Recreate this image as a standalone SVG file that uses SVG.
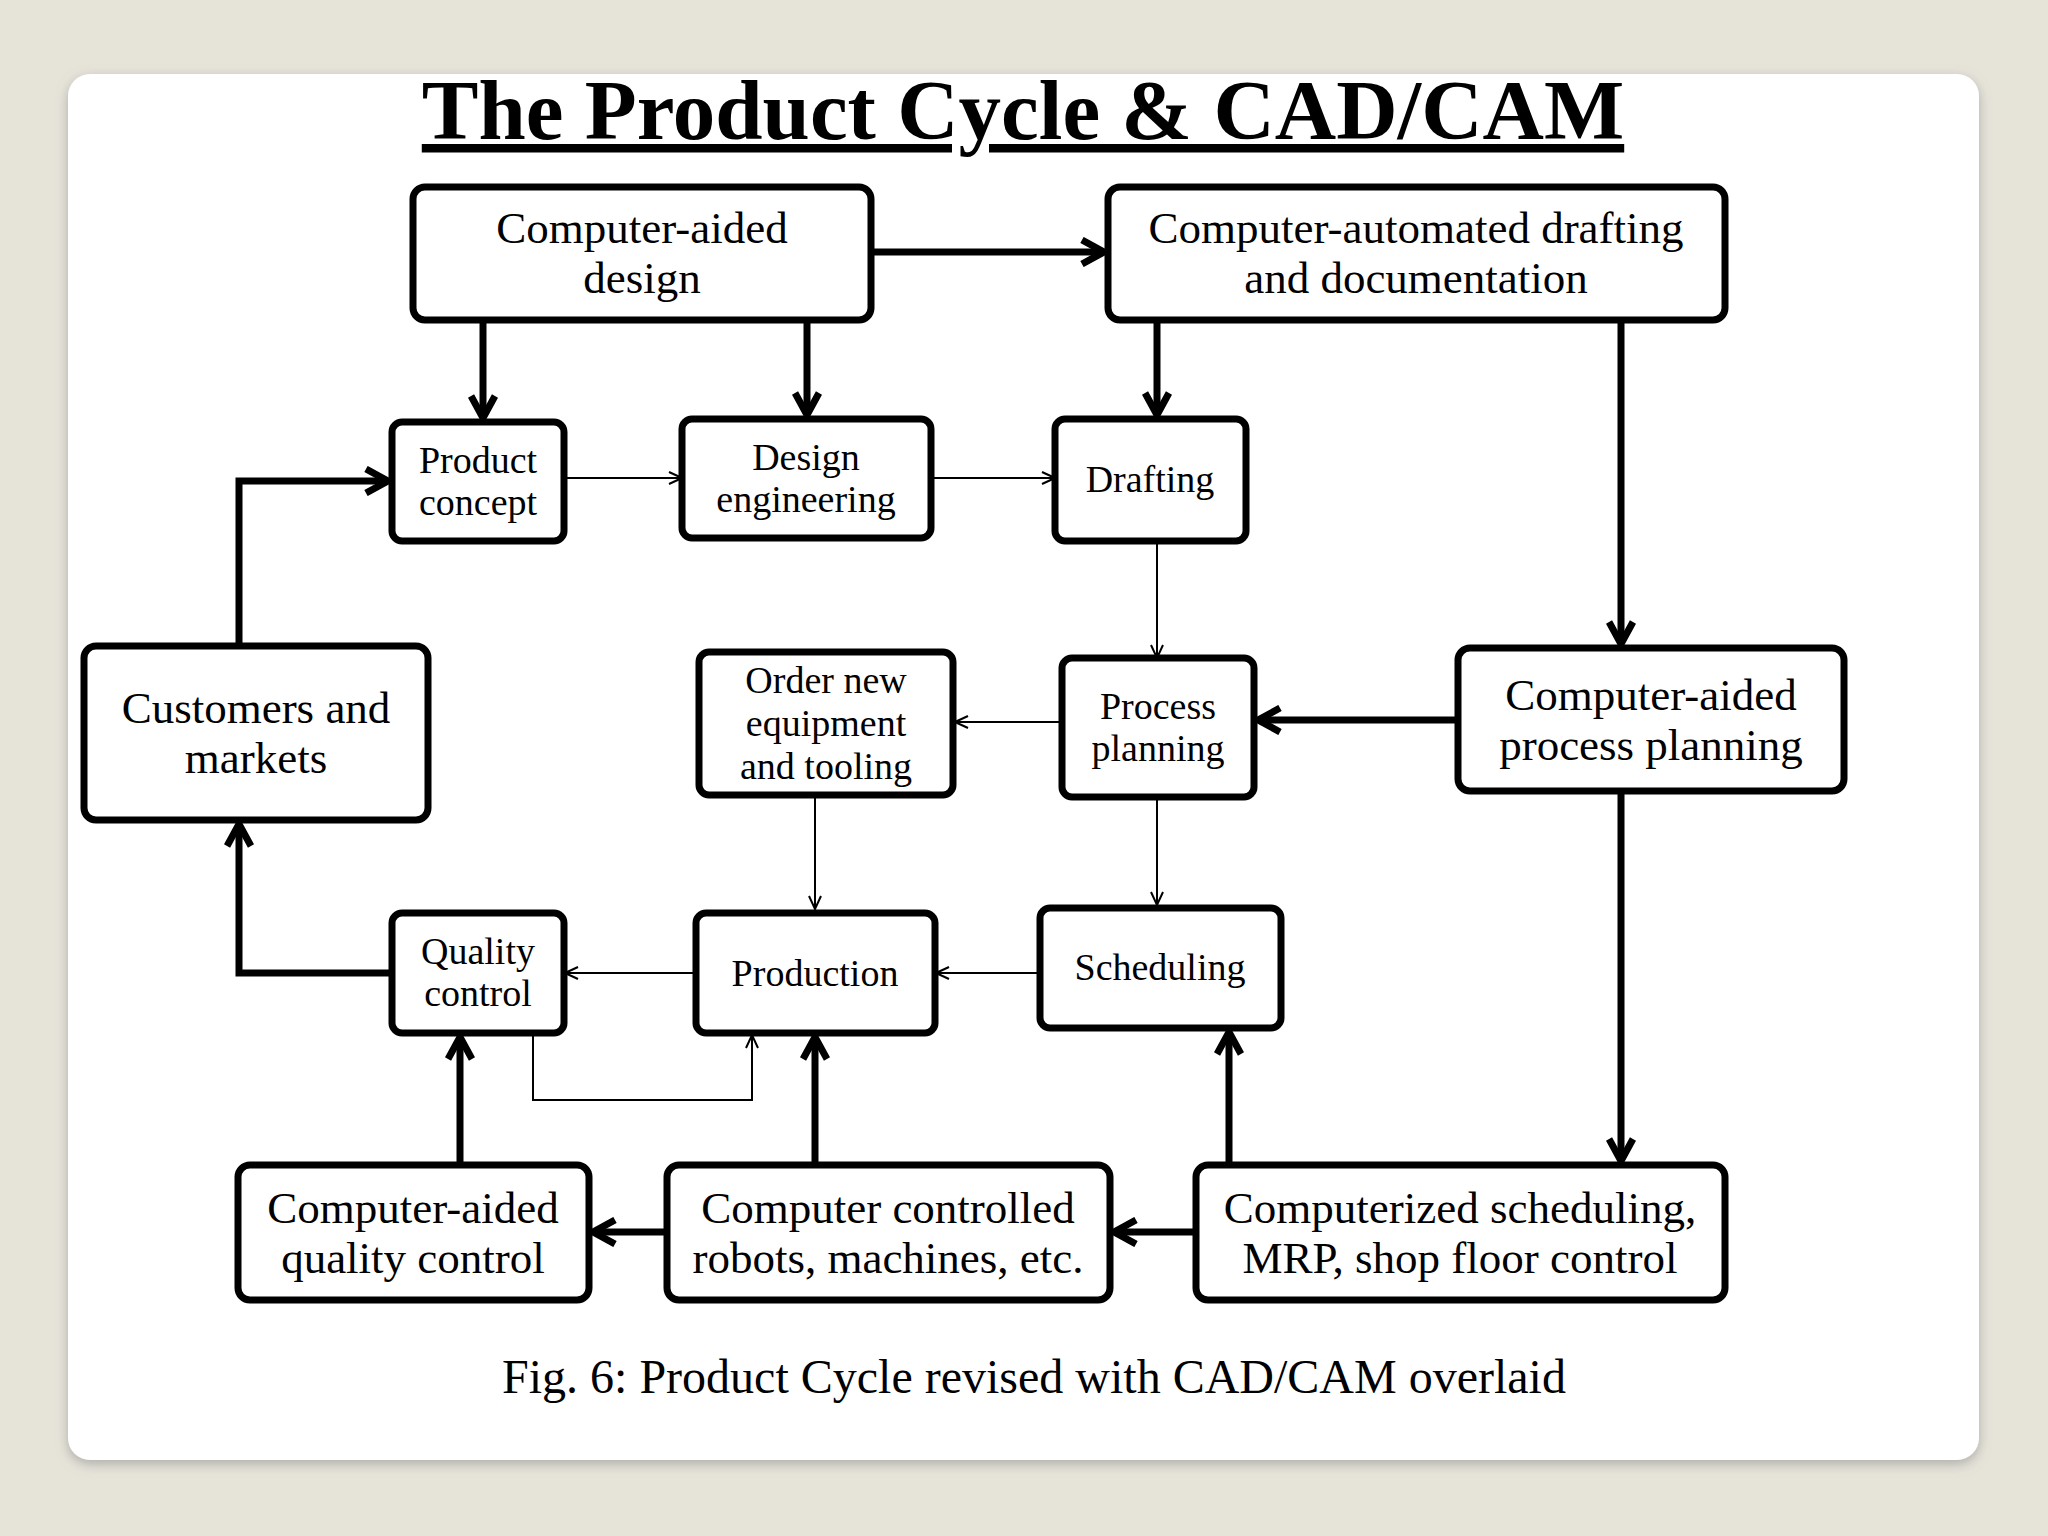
<svg xmlns="http://www.w3.org/2000/svg" width="2048" height="1536" viewBox="0 0 2048 1536">
<defs>
<style>
.b{fill:#fff;stroke:#000;stroke-width:7}
.t{font-family:"Liberation Serif",serif;font-size:45px;text-anchor:middle;fill:#000}
.s{font-family:"Liberation Serif",serif;font-size:38px;text-anchor:middle;fill:#000}
.k{fill:none;stroke:#000;stroke-width:7}
.n{fill:none;stroke:#000;stroke-width:2}
</style>
<marker id="ak" markerUnits="userSpaceOnUse" viewBox="0 0 30 30" refX="26" refY="15" markerWidth="30" markerHeight="30" orient="auto"><path d="M4,3 L26,15 L4,27" fill="none" stroke="#000" stroke-width="7"/></marker>
<marker id="an" markerUnits="userSpaceOnUse" viewBox="0 0 16 16" refX="15" refY="8" markerWidth="16" markerHeight="16" orient="auto"><path d="M2,2 L15,8 L2,14" fill="none" stroke="#000" stroke-width="2"/></marker>
<filter id="sh" x="-5%" y="-5%" width="110%" height="110%"><feDropShadow dx="0" dy="4" stdDeviation="6" flood-color="#888" flood-opacity="0.6"/></filter>
</defs>
<rect width="2048" height="1536" fill="#e6e4d9"/>
<rect x="68" y="74" width="1911" height="1386" rx="22" fill="#fff" filter="url(#sh)"/>
<text x="1023" y="139" font-family="Liberation Serif,serif" font-weight="bold" font-size="85" text-anchor="middle" text-decoration="underline">The Product Cycle &amp; CAD/CAM</text>
<g id="connectors">
<path class="k" d="M871,252 H1104" marker-end="url(#ak)"/>
<path class="k" d="M483,320 V418" marker-end="url(#ak)"/>
<path class="k" d="M807,320 V415" marker-end="url(#ak)"/>
<path class="k" d="M1157,320 V415" marker-end="url(#ak)"/>
<path class="k" d="M1621,320 V644" marker-end="url(#ak)"/>
<path class="k" d="M1458,720 H1258" marker-end="url(#ak)"/>
<path class="k" d="M1621,791 V1161" marker-end="url(#ak)"/>
<path class="k" d="M1196,1232 H1114" marker-end="url(#ak)"/>
<path class="k" d="M667,1232 H593" marker-end="url(#ak)"/>
<path class="k" d="M1229,1165 V1032" marker-end="url(#ak)"/>
<path class="k" d="M815,1165 V1037" marker-end="url(#ak)"/>
<path class="k" d="M460,1165 V1037" marker-end="url(#ak)"/>
<path class="k" d="M392,973 H239 V824" marker-end="url(#ak)"/>
<path class="k" d="M239,646 V481 H388" marker-end="url(#ak)"/>
<path class="n" d="M564,478 H682" marker-end="url(#an)"/>
<path class="n" d="M931,478 H1055" marker-end="url(#an)"/>
<path class="n" d="M1157,541 V658" marker-end="url(#an)"/>
<path class="n" d="M1062,722 H955" marker-end="url(#an)"/>
<path class="n" d="M815,795 V909" marker-end="url(#an)"/>
<path class="n" d="M1157,797 V905" marker-end="url(#an)"/>
<path class="n" d="M1040,973 H936" marker-end="url(#an)"/>
<path class="n" d="M696,973 H565" marker-end="url(#an)"/>
<path class="n" d="M533,1033 V1100 H752 V1035" marker-end="url(#an)"/>
</g>
<g id="cad"><rect class="b" x="413" y="187" width="458" height="133" rx="12"/><text class="t" x="642" y="243">Computer-aided</text><text class="t" x="642" y="293">design</text></g>
<g id="cadd"><rect class="b" x="1108" y="187" width="617" height="133" rx="12"/><text class="t" x="1416" y="243">Computer-automated drafting</text><text class="t" x="1416" y="293">and documentation</text></g>
<g id="concept"><rect class="b" x="392" y="422" width="172" height="119" rx="10"/><text class="s" x="478" y="473">Product</text><text class="s" x="478" y="515">concept</text></g>
<g id="design"><rect class="b" x="682" y="419" width="249" height="119" rx="10"/><text class="s" x="806" y="470">Design</text><text class="s" x="806" y="512">engineering</text></g>
<g id="drafting"><rect class="b" x="1055" y="419" width="191" height="122" rx="10"/><text class="s" x="1150" y="492">Drafting</text></g>
<g id="customers"><rect class="b" x="84" y="646" width="344" height="174" rx="12"/><text class="t" x="256" y="723">Customers and</text><text class="t" x="256" y="773">markets</text></g>
<g id="order"><rect class="b" x="699" y="652" width="254" height="143" rx="10"/><text class="s" x="826" y="693">Order new</text><text class="s" x="826" y="736">equipment</text><text class="s" x="826" y="779">and tooling</text></g>
<g id="process"><rect class="b" x="1062" y="658" width="192" height="139" rx="10"/><text class="s" x="1158" y="719">Process</text><text class="s" x="1158" y="761">planning</text></g>
<g id="capp"><rect class="b" x="1458" y="648" width="386" height="143" rx="12"/><text class="t" x="1651" y="710">Computer-aided</text><text class="t" x="1651" y="760">process planning</text></g>
<g id="qc"><rect class="b" x="392" y="913" width="172" height="120" rx="10"/><text class="s" x="478" y="964">Quality</text><text class="s" x="478" y="1006">control</text></g>
<g id="production"><rect class="b" x="696" y="913" width="239" height="120" rx="10"/><text class="s" x="815" y="986">Production</text></g>
<g id="scheduling"><rect class="b" x="1040" y="908" width="241" height="120" rx="10"/><text class="s" x="1160" y="980">Scheduling</text></g>
<g id="caqc"><rect class="b" x="238" y="1165" width="351" height="135" rx="12"/><text class="t" x="413" y="1223">Computer-aided</text><text class="t" x="413" y="1273">quality control</text></g>
<g id="robots"><rect class="b" x="667" y="1165" width="443" height="135" rx="12"/><text class="t" x="888" y="1223">Computer controlled</text><text class="t" x="888" y="1273">robots, machines, etc.</text></g>
<g id="compsched"><rect class="b" x="1196" y="1165" width="529" height="135" rx="12"/><text class="t" x="1460" y="1223">Computerized scheduling,</text><text class="t" x="1460" y="1273">MRP, shop floor control</text></g>
<text x="1034" y="1393" font-family="Liberation Serif,serif" font-size="48" text-anchor="middle">Fig. 6: Product Cycle revised with CAD/CAM overlaid</text>
</svg>
